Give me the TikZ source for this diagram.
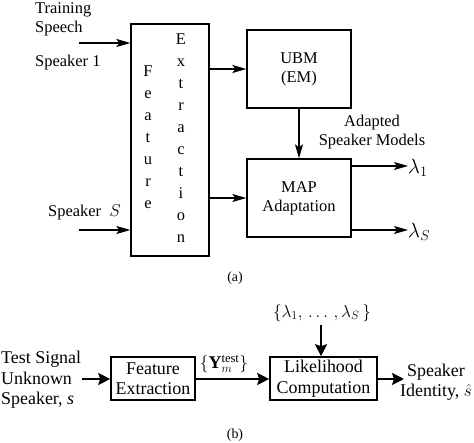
\documentclass[tikz,border=0pt]{standalone}
\usepackage{fontspec}
\setmainfont{Liberation Serif}
\usetikzlibrary{arrows.meta}
\begin{document}
\begin{tikzpicture}[x=1bp,y=-1bp,
  topfont/.style={font=\fontsize{16.5}{19}\selectfont},
  botfont/.style={font=\fontsize{18}{20.5}\selectfont},
  box/.style={draw,line width=1.3bp,inner sep=0pt},
  bbox/.style={draw,line width=1.6bp,inner sep=0pt},
  arr/.style={line width=1.5bp,-{Stealth[length=14bp,width=8bp,inset=3bp]}},
  barr/.style={line width=2bp,-{Stealth[length=12bp,width=12bp,inset=2bp]}},
  lbl/.style={inner sep=0pt}]
\useasboundingbox (0,0) rectangle (474,443);
% (a)
\node[box,minimum width=78bp,minimum height=232bp] (fe) at (170,140) {};
\node[lbl,topfont,align=center,font=\fontsize{16.5}{22}\selectfont] (feat) at (148,137) {F\\e\\a\\t\\u\\r\\e};
\node[lbl,topfont,align=center,font=\fontsize{16.5}{22}\selectfont] (extr) at (181,138) {E\\x\\t\\r\\a\\c\\t\\i\\o\\n};
\node[box,topfont,minimum width=104bp,minimum height=78bp,align=center] (ubm) at (299,69) {UBM\\(EM)};
\node[box,topfont,minimum width=104bp,minimum height=78bp,align=center] (map) at (299,198) {MAP\\Adaptation};
\node[lbl,topfont,align=left,anchor=west] (train) at (35,19) {Training\\Speech};
\node[lbl,topfont,anchor=west] (sp1) at (35,63) {Speaker 1};
\node[lbl,topfont,anchor=west] (sps) at (48,212) {Speaker \ $S$};
\coordinate (in1) at (79,43);
\coordinate (ins) at (79,230);
\draw[arr] (in1) -- (in1 -| fe.west);
\draw[arr] (ins) -- (ins -| fe.west);
\coordinate (u) at (0,69);
\coordinate (m) at (0,198);
\draw[arr] (u -| fe.east) -- (ubm.west);
\draw[arr] (m -| fe.east) -- (map.west);
\draw[arr] (ubm.south) -- (map.north);
\node[lbl,topfont,align=center] (adapt) at (372,132) {Adapted\\Speaker Models};
\node[lbl,anchor=west,font=\fontsize{21}{22}\selectfont] (l1) at (408,168) {$\lambda_1$};
\node[lbl,anchor=west,font=\fontsize{21}{22}\selectfont] (ls) at (408,232) {$\lambda_S$};
\coordinate (o1) at (0,166);
\coordinate (os) at (0,230);
\draw[arr] (o1 -| map.east) -- (l1.west |- o1);
\draw[arr] (os -| map.east) -- (ls.west |- os);
\node[lbl,font=\fontsize{14}{16}\selectfont] (la) at (235,278) {(a)};
% (b)
\node[lbl,botfont,align=left,anchor=west] (test) at (1,380) {Test Signal\\Unknown\\Speaker, \textit{s}};
\node[bbox,botfont,minimum width=84bp,minimum height=43bp,align=center] (fe2) at (153,378.5) {Feature\\Extraction};
\node[bbox,botfont,minimum width=107bp,minimum height=43bp,align=center] (lik) at (323.5,378.5) {Likelihood\\Computation};
\node[lbl,botfont] (lam) at (322,313) {$\{\lambda_1,\,\ldots\,,\lambda_S\,\}$};
\node[lbl,botfont] (ym) at (224,364) {$\{\mathbf{Y}_m^{\mathrm{test}}\}$};
\node[lbl,botfont,align=center] (spid) at (436,382) {Speaker\\Identity, $\hat{s}$};
\coordinate (t0) at (82,379);
\draw[barr] (t0) -- (t0 -| fe2.west);
\draw[barr] (fe2.east |- t0) -- (lik.west |- t0);
\coordinate (lt) at (321,325);
\draw[barr] (lt) -- (lt |- lik.north);
\coordinate (oe) at (404,379);
\draw[barr] (lik.east |- oe) -- (oe);
\node[lbl,font=\fontsize{14}{16}\selectfont] (lb) at (235,435) {(b)};
\end{tikzpicture}
\end{document}
